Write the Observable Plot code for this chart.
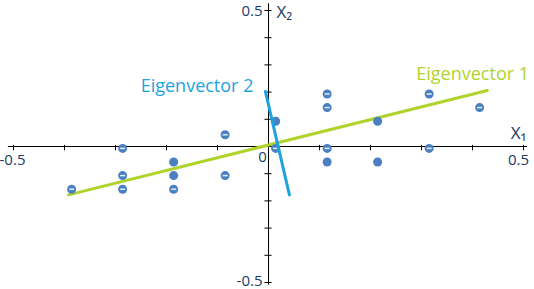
<!DOCTYPE html>
<html>
<head>
<meta charset="utf-8">
<script src="https://cdn.jsdelivr.net/npm/d3@7"></script>
<script src="https://cdn.jsdelivr.net/npm/@observablehq/plot@0.6"></script>
<style>
  html, body { margin: 0; padding: 0; background: #fff; }
</style>
</head>
<body>
<div id="chart"></div>
<script>
// Data points (mean-centred X1, X2)
const pointX = [-0.386, -0.286, -0.286, -0.286, -0.186, -0.186, -0.186, -0.085, -0.085, 0.014, 0.014, 0.115, 0.115, 0.115, 0.115, 0.214, 0.214, 0.315, 0.315, 0.414];
const pointY = [-0.157, -0.007, -0.107, -0.157, -0.057, -0.107, -0.157, 0.043, -0.107, 0.093, -0.007, 0.193, 0.143, -0.007, -0.057, 0.093, -0.057, 0.193, -0.007, 0.143];
const pointDash = [1, 1, 1, 1, 0, 0, 1, 1, 1, 0, 1, 1, 1, 1, 0, 0, 0, 1, 1, 1];

// Eigenvector segments
const ev1X = [-0.392, 0.429];
const ev1Y = [-0.178, 0.206];
const ev2X = [-0.006, 0.041];
const ev2Y = [0.202, -0.178];

// Axis ticks and labels
const tickValues = [-0.5, -0.4, -0.3, -0.2, -0.1, 0.1, 0.2, 0.3, 0.4, 0.5];
const xTickLabelsLeft = [{v: -0.5, t: "-0.5"}];
const xTickLabelsRight = [{v: 0.5, t: "0.5"}];
const yTickLabelsTop = [{v: 0.5, t: "0.5"}];
const yTickLabelsBottom = [{v: -0.5, t: "-0.5"}];

const points = pointX.map((x, i) => ({x, y: pointY[i], dash: pointDash[i]}));
const ev1 = ev1X.map((x, i) => ({x, y: ev1Y[i]}));
const ev2 = ev2X.map((x, i) => ({x, y: ev2Y[i]}));

const green = "#b0d32c";
const blue = "#1ea3de";
const dotColor = "#4a7fc2";
const labelColor = "#1c3a66";
const font = "'Open Sans', Lato, sans-serif";

const chart = Plot.plot({
  width: 534,
  height: 289,
  marginLeft: 13,
  marginRight: 11,
  marginTop: 10,
  marginBottom: 7,
  x: {domain: [-0.5, 0.5], axis: null},
  y: {domain: [-0.5, 0.5], axis: null},
  style: {background: "#fff", fontFamily: font},
  marks: [
    // axes
    Plot.ruleY([0], {x1: -0.51, x2: 0.508, stroke: "#000", strokeWidth: 1}),
    Plot.ruleX([0], {y1: -0.51, y2: 0.525, stroke: "#000", strokeWidth: 1}),
    Plot.ruleX(tickValues, {x: d => d, y1: 0.004, y2: -0.016, stroke: "#000"}),
    Plot.ruleY(tickValues, {y: d => d, x1: -0.007, x2: 0.007, stroke: "#000"}),
    // tick labels
    Plot.text(xTickLabelsLeft, {x: "v", y: 0, text: "t", dy: 14, dx: -1, textAnchor: "middle", fontSize: 15, fill: labelColor}),
    Plot.text(xTickLabelsRight, {x: "v", y: 0, text: "t", dy: 14, dx: -5, textAnchor: "middle", fontSize: 15, fill: labelColor}),
    Plot.text(yTickLabelsTop, {x: 0, y: "v", text: "t", dx: -6, dy: 1, textAnchor: "end", fontSize: 15, fill: labelColor}),
    Plot.text(yTickLabelsBottom, {x: 0, y: "v", text: "t", dx: -6, dy: -1, textAnchor: "end", fontSize: 15, fill: labelColor}),
    Plot.text(["0"], {x: 0, y: 0, text: d => d, dx: -6, dy: 11, textAnchor: "middle", fontSize: 15, fill: labelColor}),
    // axis titles
    Plot.text(["X₁"], {x: 0.5, y: 0, text: d => d, dx: -5, dy: -13, textAnchor: "middle", fontSize: 17, fill: labelColor}),
    Plot.text(["X₂"], {x: 0, y: 0.5, text: d => d, dx: 8, dy: 2, textAnchor: "start", fontSize: 17, fill: labelColor}),
    // eigenvector 1
    Plot.line(ev1, {x: "x", y: "y", stroke: green, strokeWidth: 3}),
    // points
    Plot.dot(points, {x: "x", y: "y", r: 4.5, fill: dotColor, stroke: "none"}),
    Plot.link(points.filter(d => d.dash), {x1: d => d.x - 0.005, x2: d => d.x + 0.005, y1: "y", y2: "y", stroke: "#fff", strokeOpacity: 0.85, strokeWidth: 1.5}),
    // eigenvector 2
    Plot.line(ev2, {x: "x", y: "y", stroke: blue, strokeWidth: 3}),
    // labels
    Plot.text([ev1[1]], {x: "x", y: "y", text: () => "Eigenvector 1", dx: -71, dy: -16, textAnchor: "start", fontSize: 18, fill: green}),
    Plot.text([ev2[0]], {x: "x", y: "y", text: () => "Eigenvector 2", dx: -12, dy: -5, textAnchor: "end", fontSize: 18, fill: blue})
  ]
});
document.getElementById("chart").appendChild(chart);
</script>
</body>
</html>
